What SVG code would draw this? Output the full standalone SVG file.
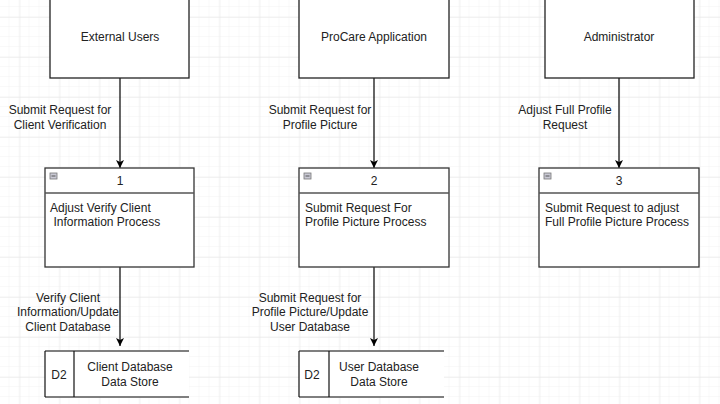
<svg xmlns="http://www.w3.org/2000/svg" width="720" height="404" viewBox="0 0 720 404">
<defs>
<pattern id="minor" x="9.5" y="7" width="10" height="10" patternUnits="userSpaceOnUse">
<path d="M10 0V10M0 10H10" fill="none" stroke="#f2f2f2" stroke-width="1"/>
</pattern>
<pattern id="major" x="19.5" y="17" width="40" height="40" patternUnits="userSpaceOnUse">
<path d="M0 0V40M0 0H40" fill="none" stroke="#e5e5e5" stroke-width="1"/>
</pattern>
<marker id="arr" viewBox="0 0 10 10" refX="10" refY="5" markerWidth="8" markerHeight="8" markerUnits="userSpaceOnUse" orient="auto">
<path d="M0 0L10 5L0 10L2.5 5Z" fill="#000"/>
</marker>
</defs>
<style>
text{font-family:"Liberation Sans",Arial,sans-serif;font-size:12px;fill:#222}
.c{text-anchor:middle}
.ent{fill:#fff;stroke:#222;stroke-width:1.3}
.proc{fill:#fff;stroke:#333;stroke-width:1.3}
.hdr{stroke:#555;stroke-width:1.3}
.icon{fill:#c9c9d4;stroke:#777;stroke-width:0.8}
.edge{fill:none;stroke:#000;stroke-width:1.2;marker-end:url(#arr)}
.st{fill:#fff;stroke:none}
.stl{stroke:#555;stroke-width:1.5}
.sts{stroke:#111;stroke-width:1.2}
</style>
<rect width="720" height="404" fill="#fff"/>
<rect width="720" height="404" fill="url(#minor)"/>
<rect width="720" height="404" fill="url(#major)"/>

<g id="connectors">
<path class="edge" d="M120 78V168"/>
<path class="edge" d="M374 78V168"/>
<path class="edge" d="M619 78V168"/>
<path class="edge" d="M120 267V346"/>
<path class="edge" d="M374 267V346"/>
<g id="labels">
<text class="c" x="60" y="114">Submit Request for</text>
<text class="c" x="60" y="129">Client Verification</text>
<text class="c" x="320" y="114">Submit Request for</text>
<text class="c" x="320" y="129">Profile Picture</text>
<text class="c" x="565" y="114">Adjust Full Profile</text>
<text class="c" x="565" y="129">Request</text>
<text class="c" x="68" y="302">Verify Client</text>
<text class="c" x="68" y="316">Information/Update</text>
<text class="c" x="68" y="331">Client Database</text>
<text class="c" x="310" y="302">Submit Request for</text>
<text class="c" x="310" y="316">Profile Picture/Update</text>
<text class="c" x="310" y="331">User Database</text>
</g>
</g>

<g id="external-users">
<rect class="ent" x="50" y="-10" width="139" height="88"/>
<text class="c" x="120" y="41">External Users</text>
</g>
<g id="procare-application">
<rect class="ent" x="299" y="-10" width="150" height="88"/>
<text class="c" x="374" y="41">ProCare Application</text>
</g>
<g id="administrator">
<rect class="ent" x="545" y="-10" width="149" height="88"/>
<text class="c" x="619" y="41">Administrator</text>
</g>

<g id="process-1">
<rect class="proc" x="45" y="168" width="149" height="99"/>
<line class="hdr" x1="45" y1="193" x2="194" y2="193"/>
<rect class="icon" x="50" y="173" width="7" height="6"/>
<line x1="51.5" y1="176" x2="55.5" y2="176" stroke="#555" stroke-width="1"/>
<text class="c" x="120" y="185">1</text>
<text x="50" y="212">Adjust Verify Client</text>
<text x="53.5" y="226">Information Process</text>
</g>
<g id="process-2">
<rect class="proc" x="299" y="168" width="150" height="99"/>
<line class="hdr" x1="299" y1="193" x2="449" y2="193"/>
<rect class="icon" x="304" y="173" width="7" height="6"/>
<line x1="305.5" y1="176" x2="309.5" y2="176" stroke="#555" stroke-width="1"/>
<text class="c" x="374" y="185">2</text>
<text x="305" y="212">Submit Request For</text>
<text x="305" y="226">Profile Picture Process</text>
</g>
<g id="process-3">
<rect class="proc" x="539" y="168" width="160" height="99"/>
<line class="hdr" x1="539" y1="193" x2="699" y2="193"/>
<rect class="icon" x="544" y="173" width="7" height="6"/>
<line x1="545.5" y1="176" x2="549.5" y2="176" stroke="#555" stroke-width="1"/>
<text class="c" x="619" y="185">3</text>
<text x="545" y="212">Submit Request to adjust</text>
<text x="545" y="226">Full Profile Picture Process</text>
</g>

<g id="store-client">
<rect class="st" x="45" y="351" width="144" height="46"/>
<line class="stl" x1="45" y1="351" x2="189" y2="351"/>
<line class="stl" x1="45" y1="397" x2="189" y2="397"/>
<line class="sts" x1="45" y1="351" x2="45" y2="397"/>
<line class="sts" x1="74" y1="351" x2="74" y2="397"/>
<text class="c" x="59" y="379">D2</text>
<text class="c" x="130" y="371">Client Database</text>
<text class="c" x="130" y="386">Data Store</text>
</g>
<g id="store-user">
<rect class="st" x="299" y="351" width="145" height="46"/>
<line class="stl" x1="299" y1="351" x2="444" y2="351"/>
<line class="stl" x1="299" y1="397" x2="444" y2="397"/>
<line class="sts" x1="299" y1="351" x2="299" y2="397"/>
<line class="sts" x1="329" y1="351" x2="329" y2="397"/>
<text class="c" x="312" y="379">D2</text>
<text class="c" x="379" y="371">User Database</text>
<text class="c" x="379" y="386">Data Store</text>
</g>
</svg>
